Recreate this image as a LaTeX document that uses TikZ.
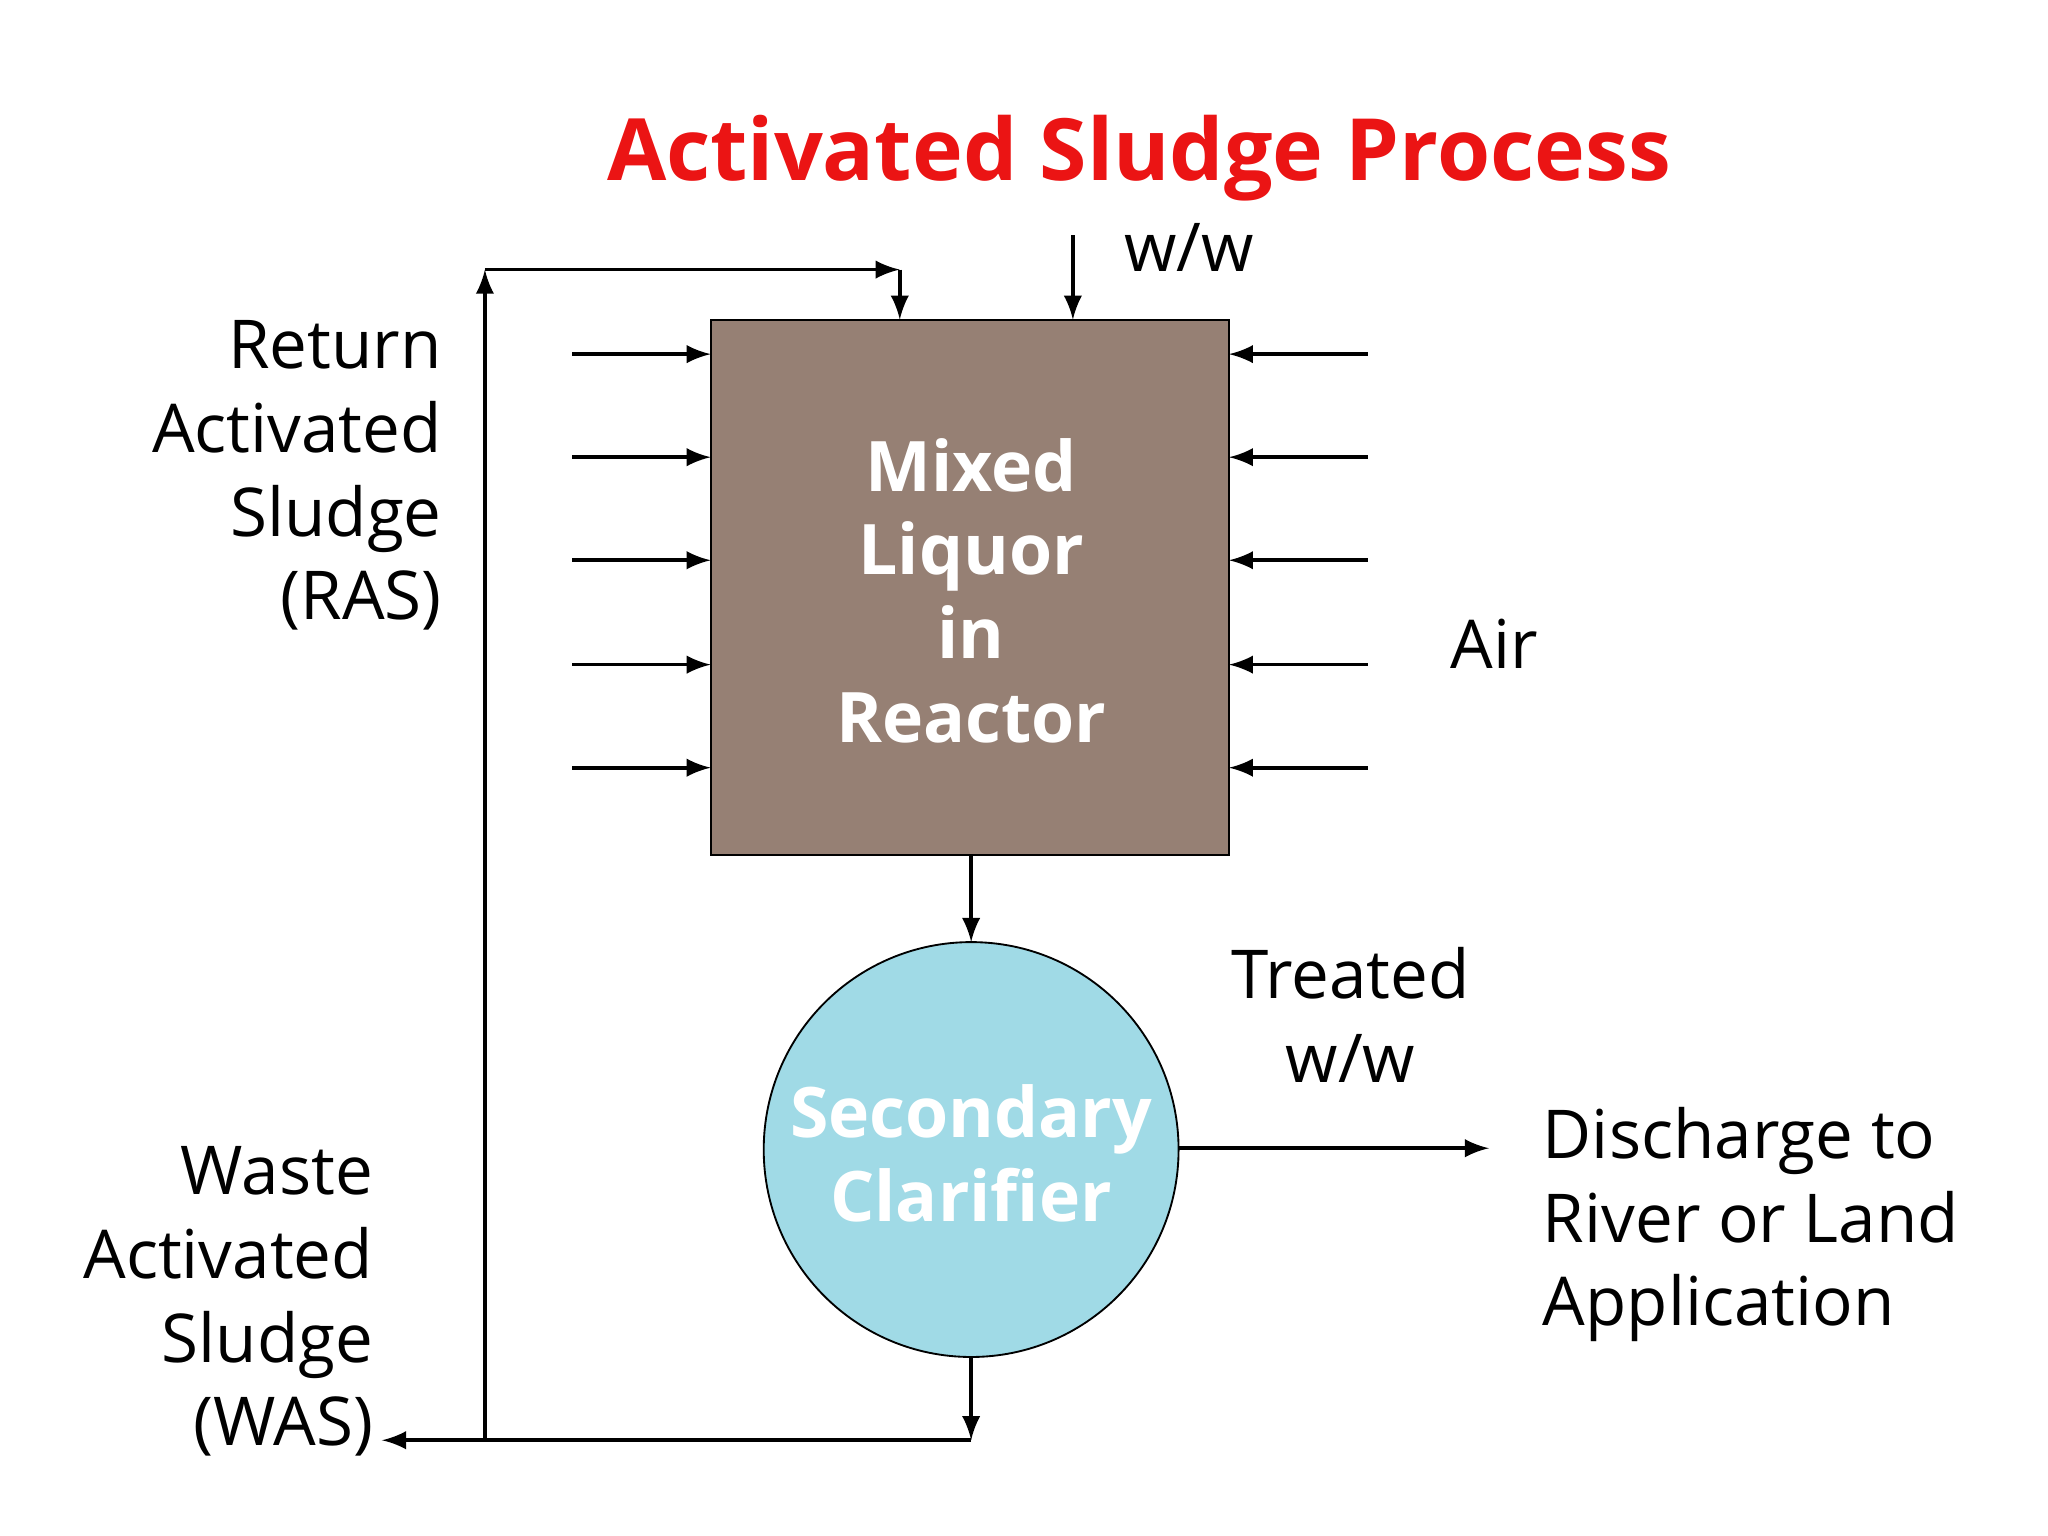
\documentclass[tikz,border=0pt]{standalone}
\usepackage{fontspec}
\setmainfont{Open Sans}
\usetikzlibrary{positioning}
\definecolor{sludge}{RGB}{150,128,116}
\definecolor{water}{RGB}{160,218,230}
\definecolor{titlered}{RGB}{235,20,20}
\tikzset{
  flow/.style={-latex, thick},
  lbl/.style={font=\fontsize{14.5}{18}\selectfont, align=#1, inner sep=0pt},
  inner/.style={font=\bfseries\fontsize{15}{18}\selectfont, text=white, align=center}
}
\begin{document}
\begin{tikzpicture}[x=0.01cm, y=-0.01cm]
    \useasboundingbox (0,0) rectangle (1550,1162);
    \node[font=\bfseries\fontsize{18.5}{22}\selectfont, text=titlered] (title) at (862,120) {Activated Sludge Process};
    % reactor and clarifier
    \draw[fill=sludge] (538,242) rectangle (930,647);
    \node[inner] (mix) at (735,447) {Mixed\\Liquor\\in\\Reactor};
    \draw[fill=water] (735,870) circle (157);
    \node[inner] (clar) at (735,873) {Secondary\\Clarifier};
    \coordinate (rtop) at (735,647);
    \coordinate (ctop) at (735,713);
    \coordinate (cbot) at (735,1027);
    \coordinate (cright) at (892,869);
    % air
    \foreach \y [count=\i] in {268,346,424,503,581} {
      \coordinate (la\i) at (433,\y);
      \coordinate (lb\i) at (538,\y);
      \coordinate (ra\i) at (1035,\y);
      \coordinate (rb\i) at (930,\y);
      \draw[flow] (la\i) -- (lb\i);
      \draw[flow] (ra\i) -- (rb\i);
    }
    \node[lbl=left] (air) at (1131,487) {Air};
    % inflow
    \coordinate (win) at (812,178);
    \coordinate (wend) at (812,242);
    \draw[flow] (win) -- (wend);
    \node[lbl=left] (ww) at (900,187) {w/w};
    % return loop
    \coordinate (wout) at (735,1090);
    \coordinate (jn) at (367,1090);
    \coordinate (up) at (367,204);
    \coordinate (rt) at (681,204);
    \coordinate (rin) at (681,242);
    \coordinate (was) at (289,1090);
    \draw[flow] (rtop) -- (ctop);
    \draw[flow] (cbot) -- (wout);
    \draw[flow] (wout) -- (was);
    \draw[flow] (jn) -- (up);
    \draw[flow] (up) -- (rt);
    \draw[flow] (rt) -- (rin);
    \coordinate (dis) at (1127,869);
    \draw[flow] (cright) -- (dis);
    % labels
    \node[lbl=right, anchor=east] (ras) at (335,360) {Return\\Activated\\Sludge\\(RAS)};
    \node[lbl=right, anchor=east] (wasl) at (283,985) {Waste\\Activated\\Sludge\\(WAS)};
    \node[lbl=center] (tww) at (1022,768) {Treated\\w/w};
    \node[lbl=left, anchor=west] (disl) at (1167,927) {Discharge to\\River or Land\\Application};
\end{tikzpicture}
\end{document}
